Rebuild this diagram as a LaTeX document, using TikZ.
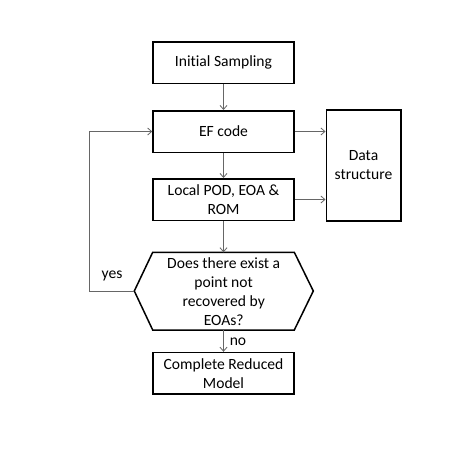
\documentclass[tikz,border=0pt]{standalone}
\usepackage{fontspec}
\setmainfont[Ligatures=NoCommon]{Carlito}
\usetikzlibrary{arrows.meta}
\begin{document}
\begin{tikzpicture}[x=1pt,y=-1pt,
  box/.style={draw=black,line width=1.5pt,minimum width=141pt,minimum height=41.5pt,inner sep=0pt,align=center,font=\fontsize{15.6}{19}\selectfont},
  lbl/.style={inner sep=0pt,font=\fontsize{15.6}{19}\selectfont},
  conn/.style={draw=black!60,line width=0.8pt,-{Straight Barb[length=4pt,width=7pt]}}]
\useasboundingbox (0,0) rectangle (474,474);
\fill[white] (0,0) rectangle (474,474);
\node[box] (init) at (223.5,62.5) {Initial Sampling};
\node[box] (ef) at (223.5,131.5) {EF code};
\node[box] (pod) at (223.5,199.5) {Local POD, EOA \&\\ROM};
\node[box,minimum width=74.5pt,minimum height=111pt] (data) at (363.5,165.5) {Data\\structure};
\node[lbl,align=center] (dec) at (223.7,291.5) {Does there exist a\\point not\\recovered by\\EOAs?};
\coordinate (dl) at (134.3,291);
\coordinate (dr) at (313.3,291);
\coordinate (dtl) at (152.7,252.3);
\coordinate (dtr) at (294.3,252.3);
\coordinate (dbl) at (152.7,330);
\coordinate (dbr) at (294.3,330);
\coordinate (dtop) at (223.5,252.3);
\coordinate (dbot) at (223.5,330);
\draw[line width=1.5pt,line join=miter] (dl) -- (dtl) -- (dtr) -- (dr) -- (dbr) -- (dbl) -- cycle;
\node[box] (crm) at (223.5,373.3) {Complete Reduced\\Model};
\coordinate (loopb) at (89.3,291);
\coordinate (loopt) at (89.3,131.5);
\node[lbl] (yes) at (112,276) {yes};
\node[lbl] (no) at (238,342) {no};
\draw[conn] (init) -- (ef);
\draw[conn] (ef) -- (pod);
\draw[conn] (pod) -- (dtop);
\draw[conn] (dbot) -- (crm);
\draw[conn] (ef.east) -- (ef.east -| data.west);
\draw[conn] (pod.east) -- (pod.east -| data.west);
\draw[conn] (dl) -- (loopb) -- (loopt) -- (ef.west);
\end{tikzpicture}
\end{document}
